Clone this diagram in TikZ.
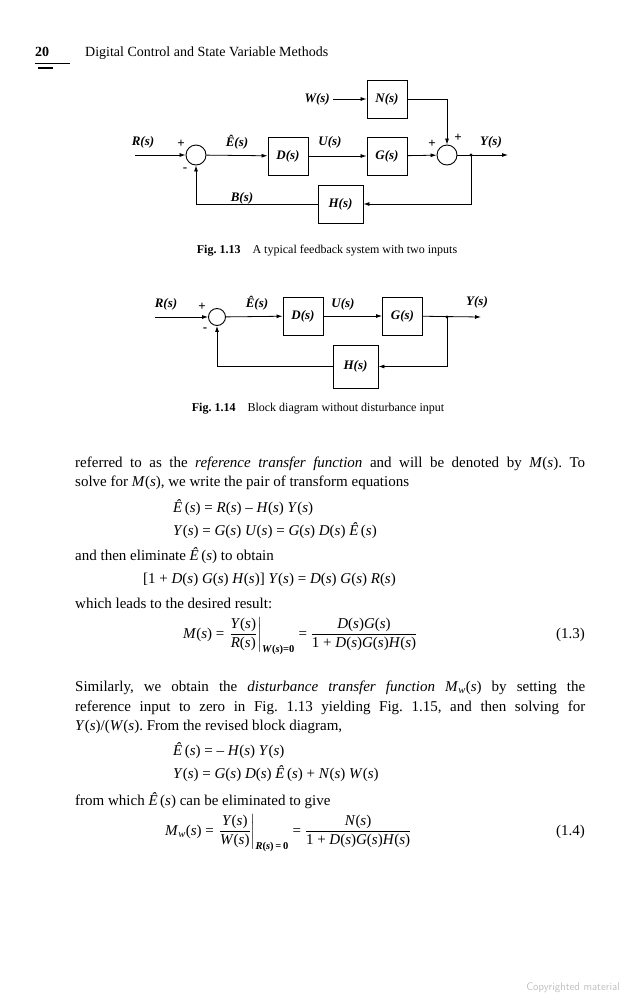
\documentclass[tikz,border=0pt]{standalone}
\usepackage{amsmath}
\usepackage{fontspec}
\setmainfont{Liberation Serif}
\usetikzlibrary{arrows.meta}
\frenchspacing
\newcommand{\fs}[1]{\textit{#1}(\textit{s})}
\newcommand{\Eh}{\textit{Ê}\,(\textit{s})}
\tikzset{
 blk/.style={draw,line width=0.9pt,minimum width=40pt,minimum height=38pt,inner sep=0pt,font=\fontsize{13}{15}\selectfont\bfseries\itshape},
 sumc/.style={draw,circle,line width=0.9pt,minimum size=20pt,inner sep=0pt},
 sig/.style={line width=0.8pt,-{Latex[length=6pt,width=4pt]}},
 lab/.style={font=\fontsize{13}{15}\selectfont\bfseries\itshape,inner sep=1pt},
 sgn/.style={font=\fontsize{13}{15}\selectfont\bfseries,inner sep=0pt},
 txt/.style={anchor=base west,inner sep=0pt,font=\fontsize{15}{18}\selectfont},
 figcap/.style={inner sep=0pt,font=\fontsize{12}{14}\selectfont}
}
\begin{document}
\begin{tikzpicture}[x=1pt,y=-1pt]
\useasboundingbox (0,0) rectangle (638,1007);
% header
\node[anchor=base west,inner sep=0pt,font=\fontsize{14}{16}\selectfont\bfseries] (pg) at (35,56) {20};
\node[anchor=base west,inner sep=0pt,font=\fontsize{14}{16}\selectfont] (hd) at (85,56) {Digital Control and State Variable Methods};
\draw[line width=0.6pt] (35,63) -- (70,63);
\draw[line width=2pt] (38,68) -- (53,68);
% ---------- Fig 1.13
\node[blk] (N1) at (387,99) {N(s)};
\node[blk] (D1) at (288,156) {D(s)};
\node[blk] (G1) at (387,156) {G(s)};
\node[blk,minimum width=45pt] (H1) at (340.5,204) {H(s)};
\node[sumc] (S1) at (196,155) {};
\node[sumc] (S2) at (447,155) {};
\coordinate (R1) at (135,155);
\coordinate (W1) at (333,99);
\coordinate (J1) at (471,155);
\coordinate (Y1) at (508,155);
\node[lab,anchor=east] (Wl) at (331,99) {W(s)};
\draw[sig] (W1) -- (N1);
\draw[sig] (N1.east) -| (S2.north);
\draw[sig] (R1) -- (S1);
\draw[sig] (S1) -- (D1);
\draw[sig] (D1) -- (G1);
\draw[sig] (G1) -- (S2);
\draw[sig] (S2) -- (Y1);
\fill (J1) circle (1.6pt);
\draw[sig] (J1) |- (H1.east);
\draw[sig] (H1.west) -| (S1.south);
\node[lab] (Rl1) at (143,142) {R(s)};
\node[lab] (El1) at (237,142) {Ê(s)};
\node[lab] (Ul1) at (330,142) {U(s)};
\node[lab] (Yl1) at (491,142) {Y(s)};
\node[lab] (Bl1) at (242,198) {B(s)};
\node[sgn] (p1) at (181,144) {+};
\node[sgn] (m1) at (185,170) {-};
\node[sgn] (p2) at (432,144) {+};
\node[sgn] (p3) at (458,138) {+};
\node[figcap] (c13) at (327,251) {\textbf{Fig. 1.13}\quad A typical feedback system with two inputs};
% ---------- Fig 1.14
\node[blk] (D2) at (303,316) {D(s)};
\node[blk] (G2) at (402.5,316) {G(s)};
\node[blk,minimum width=45pt,minimum height=43pt] (H2) at (355.5,366.5) {H(s)};
\node[sumc,minimum size=17pt] (S3) at (217,317) {};
\coordinate (R2) at (155,317);
\coordinate (J2) at (447,317);
\coordinate (Y2) at (481,317);
\draw[sig] (R2) -- (S3);
\draw[sig] (S3) -- (D2);
\draw[sig] (D2) -- (G2);
\draw[sig] (G2) -- (Y2);
\fill (J2) circle (1.6pt);
\draw[sig] (J2) |- (H2.east);
\draw[sig] (H2.west) -| (S3.south);
\node[lab] (Rl2) at (166,304) {R(s)};
\node[lab] (El2) at (257,303) {Ê(s)};
\node[lab] (Ul2) at (343,304) {U(s)};
\node[lab] (Yl2) at (477,302) {Y(s)};
\node[sgn] (p4) at (202,307) {+};
\node[sgn] (m2) at (205,330) {-};
\node[figcap] (c14) at (318,409) {\textbf{Fig. 1.14}\quad Block diagram without disturbance input};
% ---------- text
\node[txt] (t1) at (75,467) {\makebox[510pt][s]{referred to as the \textit{reference transfer function} and will be denoted by \fs{M}. To}};
\node[txt] (t2) at (75,486) {solve for \fs{M}, we write the pair of transform equations};
\node[txt] (e1) at (173,512) {\Eh{} = \fs{R} – \fs{H} \fs{Y}};
\node[txt] (e2) at (173,535) {\fs{Y} = \fs{G} \fs{U} = \fs{G} \fs{D} \Eh};
\node[txt] (t3) at (75,560) {and then eliminate \Eh{} to obtain};
\node[txt] (e3) at (143,583) {[1 + \fs{D} \fs{G} \fs{H}] \fs{Y} = \fs{D} \fs{G} \fs{R}};
\node[txt] (t4) at (75,608) {which leads to the desired result:};
\node[txt] (e4) at (183,638) {\fs{M} = $\left.\dfrac{\text{\fs{Y}}}{\text{\fs{R}}}\right|_{\text{\bfseries\fs{W}=0}}$ = $\dfrac{\text{\fs{D}\fs{G}}}{\text{1 + \fs{D}\fs{G}\fs{H}}}$};
\node[txt,anchor=base east] (n3) at (585,638) {(1.3)};
\node[txt] (t5) at (75,691) {\makebox[510pt][s]{Similarly, we obtain the \textit{disturbance transfer function} \textit{M}\textsubscript{\textit{w}}(\textit{s}) by setting the}};
\node[txt] (t6) at (75,711) {\makebox[510pt][s]{reference input to zero in Fig. 1.13 yielding Fig. 1.15, and then solving for}};
\node[txt] (t7) at (75,730) {\fs{Y}/(\fs{W}. From the revised block diagram,};
\node[txt] (e5) at (173,755) {\Eh{} = – \fs{H} \fs{Y}};
\node[txt] (e6) at (173,778) {\fs{Y} = \fs{G} \fs{D} \Eh{} + \fs{N} \fs{W}};
\node[txt] (t8) at (75,805) {from which \Eh{} can be eliminated to give};
\node[txt] (e7) at (165,835) {\textit{M}\textsubscript{\textit{w}}(\textit{s}) = $\left.\dfrac{\text{\fs{Y}}}{\text{\fs{W}}}\right|_{\text{\bfseries\fs{R}\,=\,0}}$ = $\dfrac{\text{\fs{N}}}{\text{1 + \fs{D}\fs{G}\fs{H}}}$};
\node[txt,anchor=base east] (n4) at (585,835) {(1.4)};
\node[anchor=base east,inner sep=0pt,text=black!25,font=\sffamily\fontsize{11}{13}\selectfont] (cr) at (620,990) {Copyrighted material};
\end{tikzpicture}
\end{document}
